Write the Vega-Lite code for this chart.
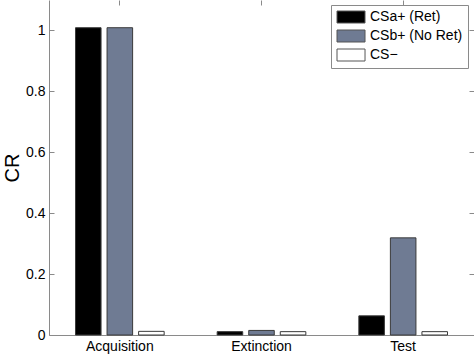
{
  "$schema": "https://vega.github.io/schema/vega-lite/v6.json",
  "width": 425,
  "height": 335,
  "autosize": {"type": "none"},
  "padding": {"left": 49, "top": 0, "right": 0, "bottom": 23},
  "config": {
    "view": {"stroke": null},
    "font": "Liberation Sans",
    "axis": {"domainColor": "#8a8a8a", "tickColor": "#8a8a8a", "labelColor": "#000", "labelFontSize": 14, "grid": false, "labelFont": "Liberation Sans", "titleFont": "Liberation Sans"}
  },
  "data": {
    "values": [
      {"phase": "Acquisition", "cond": "CSa+ (Ret)", "cr": 1.009},
      {"phase": "Acquisition", "cond": "CSb+ (No Ret)", "cr": 1.009},
      {"phase": "Acquisition", "cond": "CS−", "cr": 0.012},
      {"phase": "Extinction", "cond": "CSa+ (Ret)", "cr": 0.011},
      {"phase": "Extinction", "cond": "CSb+ (No Ret)", "cr": 0.015},
      {"phase": "Extinction", "cond": "CS−", "cr": 0.011},
      {"phase": "Test", "cond": "CSa+ (Ret)", "cr": 0.063},
      {"phase": "Test", "cond": "CSb+ (No Ret)", "cr": 0.319},
      {"phase": "Test", "cond": "CS−", "cr": 0.011}
    ]
  },
  "layer": [
    {
      "mark": {"type": "bar", "stroke": "#3a3a3a", "strokeWidth": 1},
      "encoding": {
        "x": {
          "field": "phase", "type": "nominal", "sort": ["Acquisition", "Extinction", "Test"],
          "scale": {"paddingInner": 0, "paddingOuter": 0},
          "axis": {"orient": "bottom", "title": null, "labelAngle": 0, "ticks": false, "labelPadding": 4, "labelFontSize": 14}
        },
        "xOffset": {
          "field": "cond", "type": "nominal",
          "sort": ["CSa+ (Ret)", "CSb+ (No Ret)", "CS−"],
          "scale": {"paddingInner": 0.19, "paddingOuter": 0.84}
        },
        "y": {
          "field": "cr", "type": "quantitative",
          "scale": {"domain": [0, 1.1], "nice": false, "zero": true},
          "axis": {"orient": "left", "title": "CR", "titleFontSize": 20, "titleFontWeight": "normal", "titleColor": "#000", "titlePadding": 3, "values": [0, 0.2, 0.4, 0.6, 0.8, 1], "format": "~g", "tickSize": -5, "labelPadding": 9}
        },
        "color": {
          "field": "cond", "type": "nominal",
          "scale": {"domain": ["CSa+ (Ret)", "CSb+ (No Ret)", "CS−"], "range": ["#000000", "#6f7b93", "#ffffff"]},
          "legend": {
            "title": null, "orient": "none", "legendX": 282, "legendY": 5,
            "fillColor": "#ffffff", "strokeColor": "#8a8a8a", "padding": 5,
            "symbolType": "M-1,-1H3.67V1H-1Z", "symbolSize": 144,
            "symbolStrokeColor": "#555", "symbolStrokeWidth": 1, "symbolOpacity": 1,
            "labelFontSize": 14, "labelFont": "Liberation Sans", "labelColor": "#000", "rowPadding": 3, "labelOffset": 20
          }
        }
      }
    },
    {
      "mark": {"type": "point", "opacity": 0},
      "encoding": {
        "x": {
          "field": "phase", "type": "nominal", "sort": ["Acquisition", "Extinction", "Test"],
          "axis": {"orient": "top", "title": null, "labels": false, "domain": false, "tickSize": -5}
        },
        "y": {
          "field": "cr", "type": "quantitative",
          "axis": {"orient": "right", "title": null, "labels": false, "values": [0, 0.2, 0.4, 0.6, 0.8, 1], "tickSize": -5}
        }
      }
    }
  ],
  "resolve": {"axis": {"x": "independent", "y": "independent"}}
}
